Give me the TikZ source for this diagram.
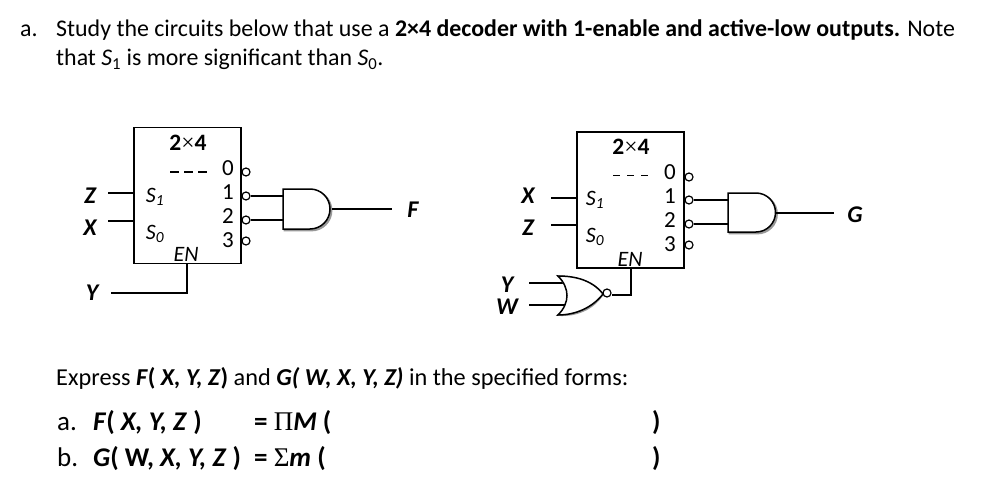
\documentclass[tikz,border=0pt]{standalone}
\usepackage{fontspec}
\setmainfont{Carlito}
\newfontfamily\symf{Liberation Serif}
\usetikzlibrary{calc}
\newcommand{\subs}[1]{\textsubscript{#1}}
\tikzset{
 x=1pt,y=-1pt,
 wire/.style={line width=1.3pt,black},
 box/.style={draw=black,line width=1.6pt,rectangle,minimum width=107pt,minimum height=136pt,inner sep=0pt},
 bub/.style={draw=black,line width=1.2pt,circle,fill=white,minimum size=8pt,inner sep=0pt},
 gate/.style={draw=black,line width=1.5pt,fill=white},
 shadow/.style={draw=black!40,line width=1.8pt,fill=black!40},
 txt/.style={font=\fontsize{23.9}{26}\selectfont,anchor=base west,inner sep=0pt},
 exprtxt/.style={font=\fontsize{24.3}{26}\selectfont,anchor=base west,inner sep=0pt},
 big/.style={font=\fontsize{27}{29}\selectfont,anchor=base west,inner sep=0pt},
 lab/.style={font=\fontsize{24}{24}\selectfont\bfseries\itshape,inner sep=0pt},
 ttl/.style={font=\fontsize{23.5}{24}\selectfont\bfseries,inner sep=0pt},
 pin/.style={font=\fontsize{23}{23}\selectfont,inner sep=0pt},
 sel/.style={font=\fontsize{22}{22}\selectfont\itshape,inner sep=0pt},
}
\begin{document}
\begin{tikzpicture}
\useasboundingbox (0,0) rectangle (988,495);
% heading
\node[txt] (l1a) at (20,37) {a.};
\node[txt] (l1) at (56,37) {Study the circuits below that use a \textbf{2×4 decoder with 1-enable and active-low outputs.} Note};
\node[txt] (l2) at (56,66) {that \textit{S}\subs{1} is more significant than \textit{S}\subs{0}.};
% left decoder
\node[box] (d1) at (187.5,195.5) {};
\node[ttl] (t1) at (188,143) {2{\symf\mdseries ×}4};
\coordinate (d1a) at (170,172); \coordinate (d1b) at (207,172);
\draw[dash pattern=on 9pt off 5pt,line width=1.2pt] (d1a) -- (d1b);
\node[pin] (p10) at (228,168) {0};
\node[pin] (p11) at (228,192) {1};
\node[pin] (p12) at (228,216) {2};
\node[pin] (p13) at (228,240) {3};
\node[bub] (b10) at (246,172) {};
\node[bub] (b11) at (246,196) {};
\node[bub] (b12) at (246,220) {};
\node[bub] (b13) at (246,241) {};
\node[sel] (s11) at (155,197) {S\subs{1}};
\node[sel] (s10) at (155,234) {S\subs{0}};
\node[sel] (en1) at (186,254) {EN};
\node[lab] (z1) at (90,196) {Z};
\node[lab] (x1) at (90,228) {X};
\node[lab] (y1) at (92,293) {Y};
\node[lab] (f1) at (413,210) {F};
\coordinate (z1e) at (108,193); \coordinate (z1t) at (134,193);
\coordinate (x1e) at (108,221); \coordinate (x1t) at (134,221);
\draw[wire] (z1e) -- (z1t);
\draw[wire] (x1e) -- (x1t);
\coordinate (y1e) at (111,293);
\coordinate (en1t) at (187,264);
\draw[wire] (y1e) -| (en1t);
% AND 1
\coordinate (a1) at (283,189); \coordinate (a1b) at (283,229);
\coordinate (a1o) at (332,209); \coordinate (f1e) at (392,209);
\draw[shadow] ($(a1)+(1.5,1.5)$) -- ++(27,0) arc[start angle=-90,end angle=90,radius=20] -- ++(-27,0) -- cycle;
\draw[gate] (a1) -- ++(27,0) arc[start angle=-90,end angle=90,radius=20] -- (a1b) -- cycle;
\draw[wire] (b11.east) -- (a1 |- b11);
\draw[wire] (b12.east) -- (a1 |- b12);
\draw[wire] (a1o) -- (f1e);
% right decoder
\node[box] (d2) at (630.5,200) {};
\node[ttl] (t2) at (631,147) {2{\symf\mdseries ×}4};
\coordinate (d2a) at (613,175); \coordinate (d2b) at (650,175);
\draw[dash pattern=on 7pt off 7pt,line width=0.7pt] (d2a) -- (d2b);
\node[pin] (p20) at (670,172) {0};
\node[pin] (p21) at (670,196) {1};
\node[pin] (p22) at (670,220) {2};
\node[pin] (p23) at (670,244) {3};
\node[bub] (b20) at (689,177) {};
\node[bub] (b21) at (689,200) {};
\node[bub] (b22) at (689,224) {};
\node[bub] (b23) at (689,245) {};
\node[sel] (s21) at (595,200) {S\subs{1}};
\node[sel] (s20) at (595,237) {S\subs{0}};
\node[sel] (en2) at (630,259) {EN};
\node[lab] (x2) at (528,196) {X};
\node[lab] (z2) at (528,228) {Z};
\node[lab] (y2) at (507,285) {Y};
\node[lab] (w2) at (507,307) {W};
\node[lab] (g2) at (855,215) {G};
\coordinate (x2e) at (551,198); \coordinate (x2t) at (577,198);
\coordinate (z2e) at (551,225); \coordinate (z2t) at (577,225);
\draw[wire] (x2e) -- (x2t);
\draw[wire] (z2e) -- (z2t);
% AND 2
\coordinate (a2) at (728,193); \coordinate (a2b) at (728,232);
\coordinate (a2o) at (776,213); \coordinate (g2e) at (834,213);
\draw[shadow] ($(a2)+(1.5,1.5)$) -- ++(28,0) arc[start angle=-90,end angle=90,radius=19.5] -- ++(-28,0) -- cycle;
\draw[gate] (a2) -- ++(28,0) arc[start angle=-90,end angle=90,radius=19.5] -- (a2b) -- cycle;
\draw[wire] (b21.east) -- (a2 |- b21);
\draw[wire] (b22.east) -- (a2 |- b22);
\draw[wire] (a2o) -- (g2e);
% NOR
\coordinate (n1) at (558,276); \coordinate (n2) at (558,315); \coordinate (nt) at (603,294);
\coordinate (y2e) at (529,283); \coordinate (y2t) at (566,283);
\coordinate (w2e) at (529,305); \coordinate (w2t) at (566,305);
\draw[wire] (y2e) -- (y2t);
\draw[wire] (w2e) -- (w2t);
\draw[shadow,xshift=1.2pt,yshift=-1.2pt] (n1) .. controls (575,276) and (592,280) .. (nt) .. controls (592,308) and (575,315) .. (n2) .. controls (570,303) and (570,288) .. (n1) -- cycle;
\draw[gate] (n1) .. controls (575,276) and (592,280) .. (nt) .. controls (592,308) and (575,315) .. (n2) .. controls (570,303) and (570,288) .. (n1) -- cycle;
\node[bub] (nb) at (607,293) {};
\coordinate (en2t) at (631,268);
\draw[wire] (nb.east) ++(0,2) -| (en2t);
% question
\node[exprtxt] (q) at (56,385) {Express \textbf{\textit{F}(}\textbf{\textit{ X, Y, Z}}\textbf{)} and \textbf{\textit{G( W, X, Y, Z)}} in the specified forms:};
\node[big] (qa) at (57,430) {a.};
\node[big] (qaf) at (93,430) {\bfseries\textit{F}( \textit{X, Y, Z} )};
\node[big] (qae) at (254,430) {\textbf{=} {\symf Π}\textbf{\textit{M} (}};
\node[big] (qap) at (652,430) {\textbf{)}};
\node[big] (qb) at (57,466) {b.};
\node[big] (qbf) at (93,466) {\bfseries\textit{G}( W, \textit{X, Y, Z} )};
\node[big] (qbe) at (254,466) {\textbf{=} {\symf Σ}\textbf{\textit{m} (}};
\node[big] (qbp) at (652,466) {\textbf{)}};
\end{tikzpicture}
\end{document}
